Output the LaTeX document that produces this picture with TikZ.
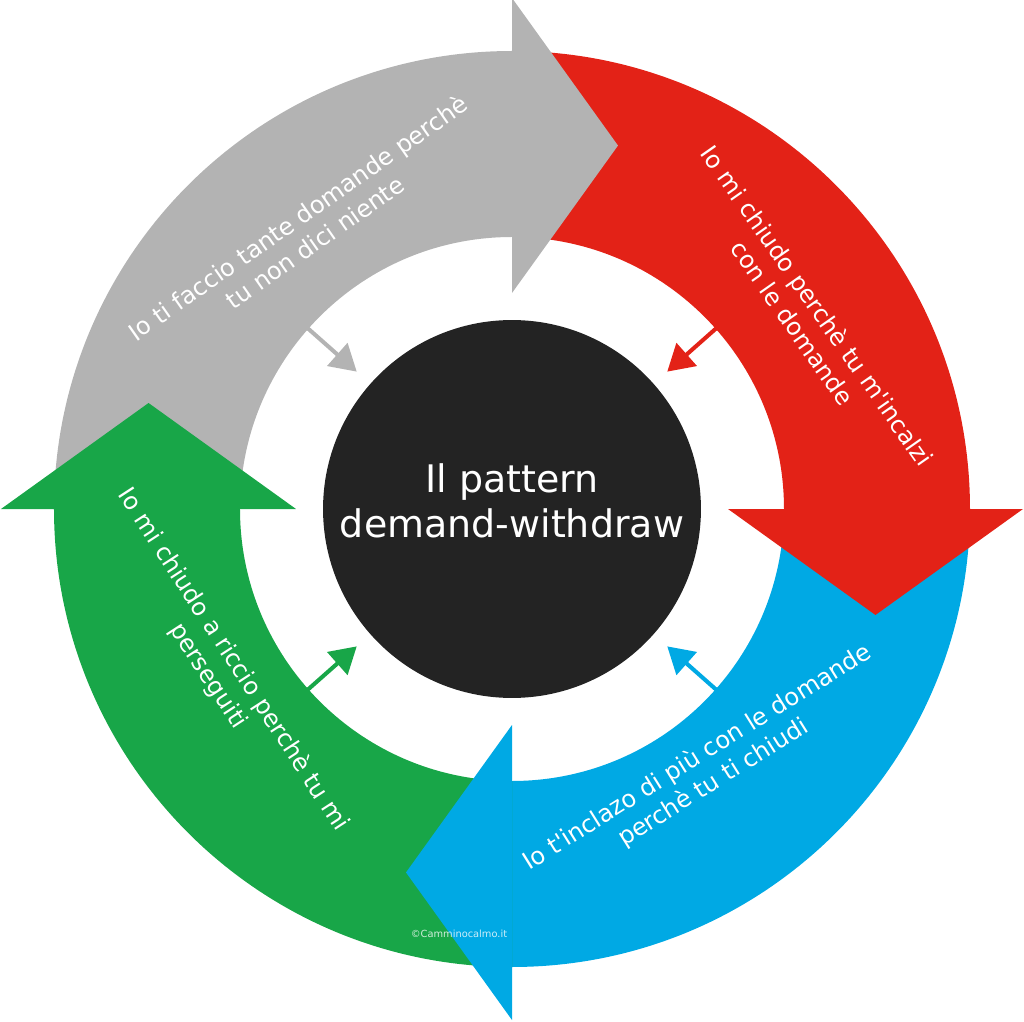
\documentclass[tikz,border=0pt]{standalone}
\usepackage{fontspec}
\setmainfont{DejaVu Sans}
\usetikzlibrary{arrows.meta}
\definecolor{ringgray}{RGB}{179,179,179}
\definecolor{ringred}{RGB}{227,34,23}
\definecolor{ringblue}{RGB}{0,169,228}
\definecolor{ringgreen}{RGB}{24,166,72}
\definecolor{coredark}{RGB}{35,35,35}

\begin{document}
\begin{tikzpicture}[x=0.02cm, y=0.02cm,
    band text/.style={text=white, align=center, font=\fontsize{13.7}{17}\selectfont},
    pointer/.style={line width=2.3pt, -{Triangle[length=5.2mm, width=6mm]}, shorten >=3.6mm}]
  \useasboundingbox (-512,-512) rectangle (512,509);

  \foreach \a/\c in {90/ringgray, 0/ringred, -90/ringblue, -180/ringgreen}
    \fill[\c] (\a+90:458) arc[start angle=\a+90, end angle=\a, radius=458]
      -- (\a:272) arc[start angle=\a, end angle=\a+90, radius=272] -- cycle;
  \foreach \a/\c in {90/ringgray, 0/ringred, -90/ringblue, -180/ringgreen}
    \fill[\c] (\a:216) -- (\a:511) -- (\a-16.26:378.6) -- cycle;

  \node[circle, fill=coredark, minimum size=7.56cm, inner sep=0pt] (core) at (0,0) {};
  \node[text=white, align=center, font=\fontsize{21.6}{25.5}\selectfont] (title) at (0,8)
    {Il pattern\\demand-withdraw};

  \node[band text, rotate=35] (gray-text) at (126.4:347)
    {Io ti faccio tante domande perchè\\tu non dici niente};
  \node[band text, rotate=-55] (red-text) at (33.6:352)
    {Io mi chiudo perchè tu m\textquotesingle incalzi\\con le domande};
  \node[band text, rotate=32] (blue-text) at (-53.5:325)
    {Io t\textquotesingle inclazo di più con le domande\\perchè tu ti chiudi};
  \node[band text, rotate=-57] (green-text) at (208.6:332)
    {Io mi chiudo a riccio perchè tu mi\\perseguiti};

  \foreach \n/\a/\c in {gray/138.5/ringgray, red/41.5/ringred,
      blue/-41.5/ringblue, green/-138.5/ringgreen} {
    \coordinate (\n-foot) at (\a:276);
    \draw[pointer, \c] (\n-foot) -- (core);
  }

  \node[text=white, text opacity=0.8, font=\fontsize{5.6}{6}\selectfont] (credit) at (-53,-425)
    {©Camminocalmo.it};
\end{tikzpicture}
\end{document}
